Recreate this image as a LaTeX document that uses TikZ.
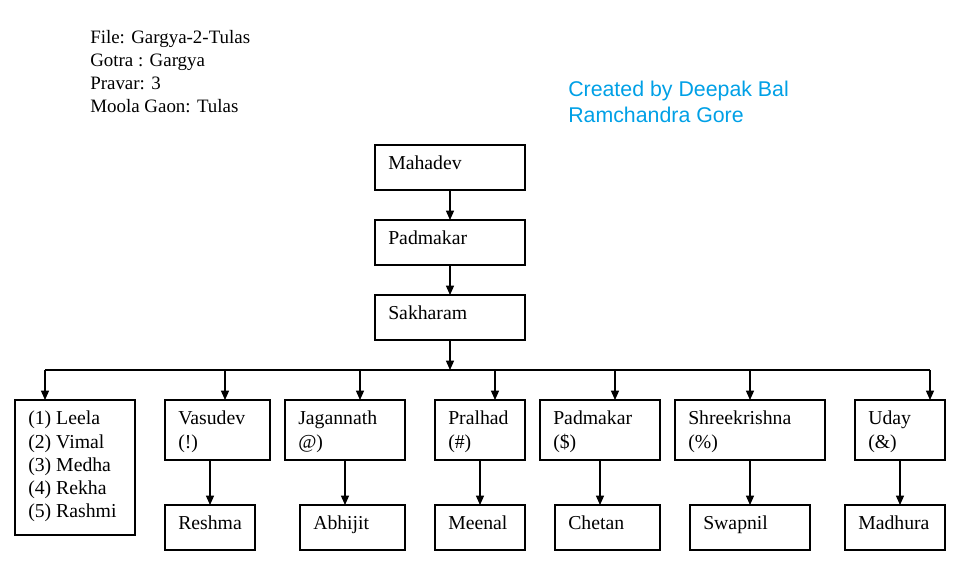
\documentclass[tikz,border=0pt]{standalone}
\usepackage{fontspec}
\setmainfont{Liberation Serif}
\newfontfamily\sansf{Liberation Sans}
\usetikzlibrary{arrows.meta}
\definecolor{cblue}{RGB}{0,160,230}
\begin{document}
\begin{tikzpicture}[x=0.75pt,y=-0.75pt,
  bx/.style={draw,line width=0.9pt},
  lbl/.style={anchor=north west,inner sep=0pt,font=\fontsize{14.8}{17.3}\selectfont,align=left},
  ar/.style={line width=0.9pt,-{Triangle[length=7pt,width=6pt]}}]
\useasboundingbox (0,0) rectangle (958,572);
\node[lbl,font=\fontsize{14.2}{17.2}\selectfont] (hdr) at (90,30) {File: Gargya-2-Tulas\\Gotra : Gargya\\Pravar: 3\\Moola Gaon: Tulas};
\node[lbl,font=\sansf\fontsize{16}{19.5}\selectfont,text=cblue] (cr) at (568,81) {Created by Deepak Bal\\Ramchandra Gore};
\newcommand\bxx[6]{\draw[bx] (#2,#3) rectangle (#4,#5); \node[lbl] (#1) at ({#2+13},{#3+11}) {#6};
  \coordinate (#1t) at ({(#2+#4)/2},#3); \coordinate (#1b) at ({(#2+#4)/2},#5);}
\bxx{mah}{375}{145}{525}{190}{Mahadev}
\bxx{pad}{375}{220}{525}{265}{Padmakar}
\bxx{sak}{375}{295}{525}{340}{Sakharam}
\bxx{lee}{15}{400}{135}{535}{(1) Leela\\(2) Vimal\\(3) Medha\\(4) Rekha\\(5) Rashmi}
\bxx{vas}{165}{400}{270}{460}{Vasudev\\(!)}
\bxx{jag}{285}{400}{405}{460}{Jagannath\\@)}
\bxx{pra}{435}{400}{525}{460}{Pralhad\\(\#)}
\bxx{pdm}{540}{400}{660}{460}{Padmakar\\(\$)}
\bxx{shr}{675}{400}{825}{460}{Shreekrishna\\(\%)}
\bxx{uda}{855}{400}{945}{460}{Uday\\(\&)}
\bxx{res}{165}{505}{255}{550}{Reshma}
\bxx{abh}{300}{505}{405}{550}{Abhijit}
\bxx{mee}{435}{505}{525}{550}{Meenal}
\bxx{che}{555}{505}{660}{550}{Chetan}
\bxx{swa}{690}{505}{810}{550}{Swapnil}
\bxx{mad}{845}{505}{945}{550}{Madhura}
\draw[ar] (mahb) -- (padt);
\draw[ar] (padb) -- (sakt);
\coordinate (bus) at (450,370);
\draw[ar] (sakb) -- (bus);
\draw[line width=0.9pt] (45,370) -- (930,370);
\foreach \x in {45,225,360,495,615,750,930} \draw[ar] (\x,370) -- (\x,400);
\draw[ar] (210,460) -- (210,505);
\draw[ar] (345,460) -- (345,505);
\draw[ar] (480,460) -- (480,505);
\draw[ar] (600,460) -- (600,505);
\draw[ar] (750,460) -- (750,505);
\draw[ar] (900,460) -- (900,505);
\end{tikzpicture}
\end{document}
